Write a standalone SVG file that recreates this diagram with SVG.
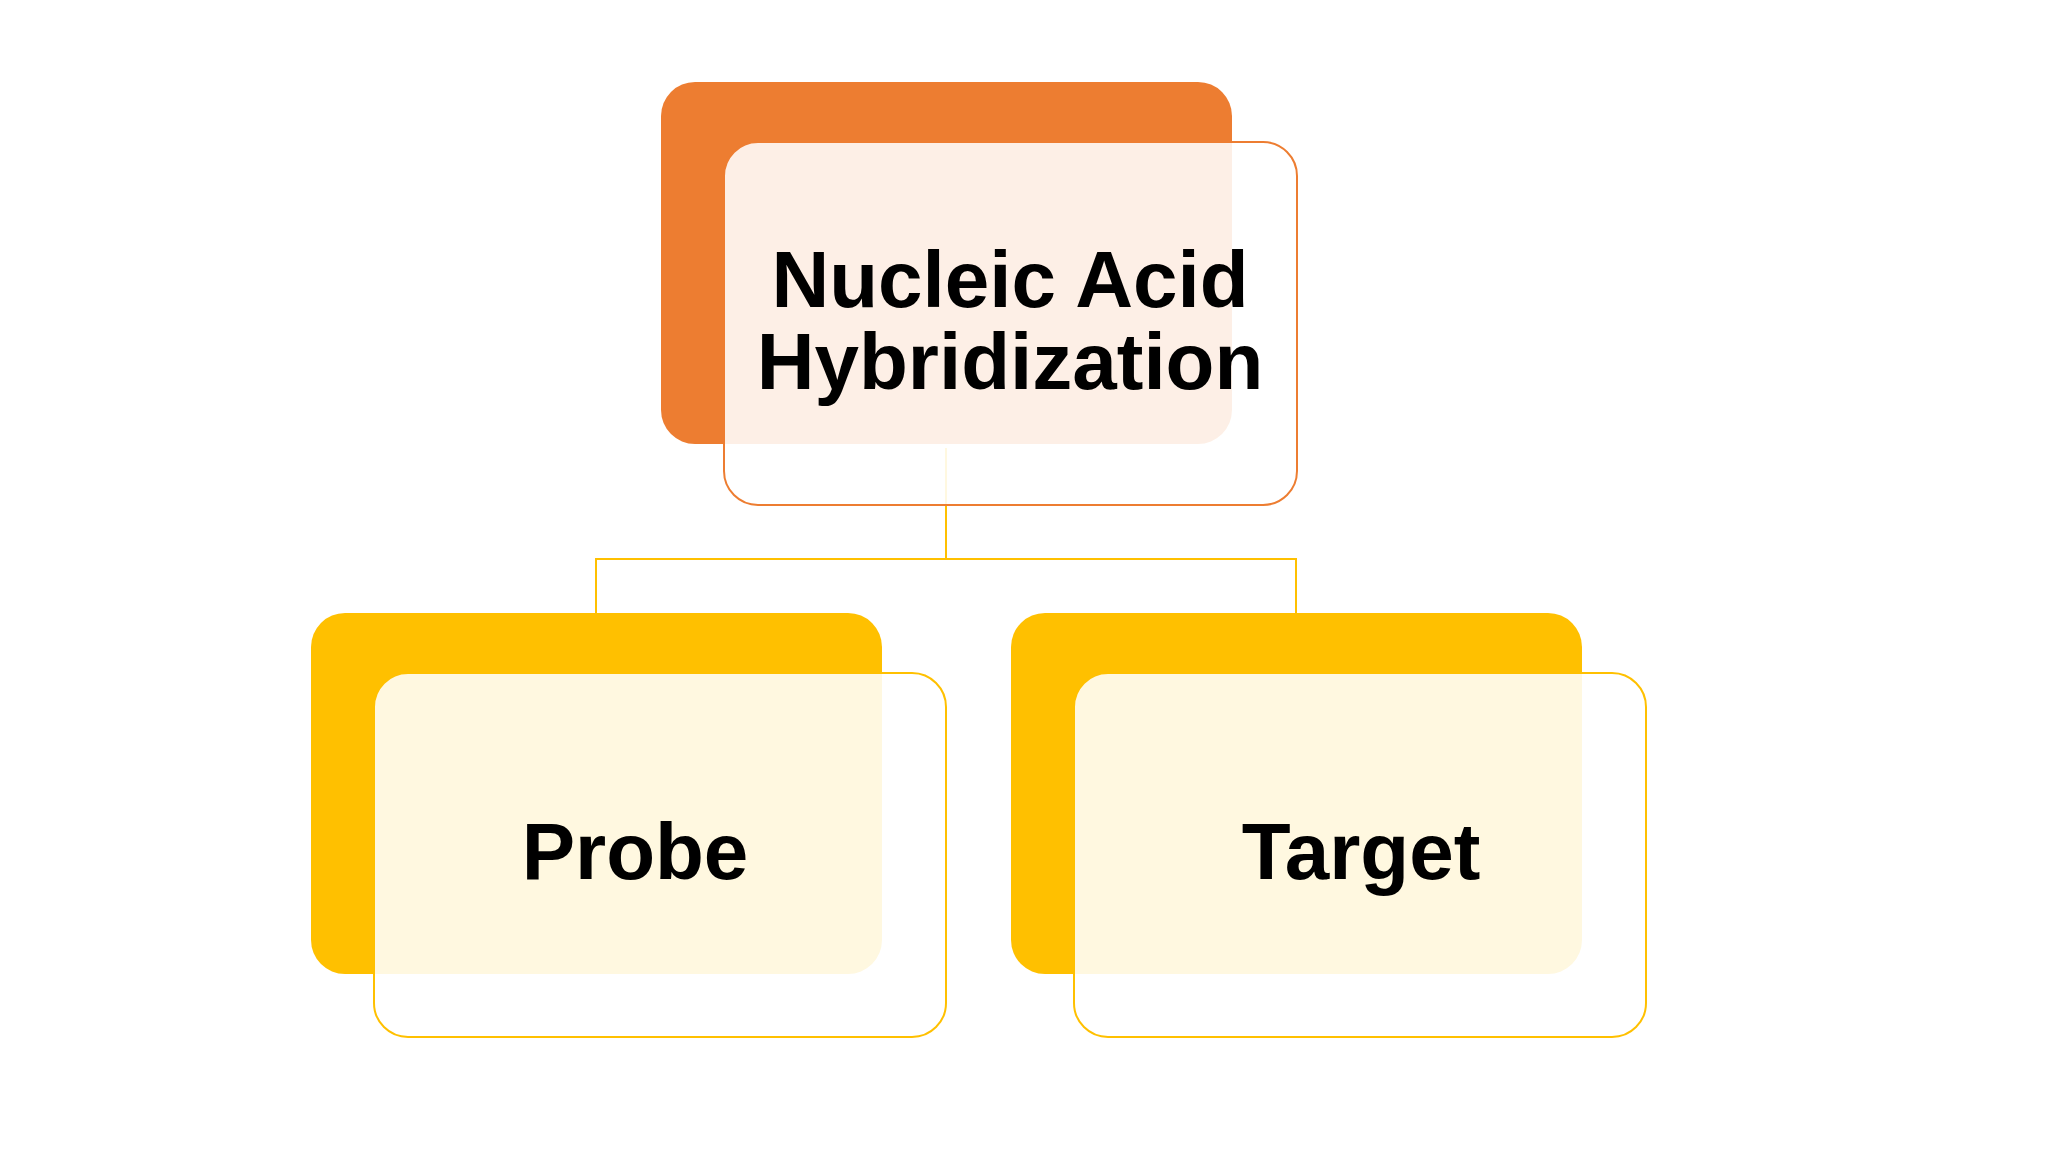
<svg xmlns="http://www.w3.org/2000/svg" width="2048" height="1152" viewBox="0 0 2048 1152">
<style>
.t{font-family:"Liberation Sans",Arial,sans-serif;font-weight:bold;font-size:80px;fill:#000;text-anchor:middle}
.f{fill:#fff;fill-opacity:0.88;stroke-width:2}
</style>
<rect width="2048" height="1152" fill="#fff"/>
<g id="connectors" fill="none" stroke="#FFC000" stroke-width="2">
<path d="M946 448V559M596 613V559H1296V613"/>
</g>
<g id="root">
<rect x="661" y="82" width="571" height="362" rx="34" fill="#ED7D31"/>
<rect class="f" x="724" y="142" width="573" height="363" rx="34" stroke="#ED7D31"/>
<text class="t" x="1010" y="307">Nucleic Acid</text>
<text class="t" x="1010" y="389">Hybridization</text>
</g>
<g id="probe">
<rect x="311" y="613" width="571" height="361" rx="34" fill="#FFC000"/>
<rect class="f" x="374" y="673" width="572" height="364" rx="34" stroke="#FFC000"/>
<text class="t" x="635" y="879">Probe</text>
</g>
<g id="target">
<rect x="1011" y="613" width="571" height="361" rx="34" fill="#FFC000"/>
<rect class="f" x="1074" y="673" width="572" height="364" rx="34" stroke="#FFC000"/>
<text class="t" x="1361" y="879">Target</text>
</g>
</svg>
